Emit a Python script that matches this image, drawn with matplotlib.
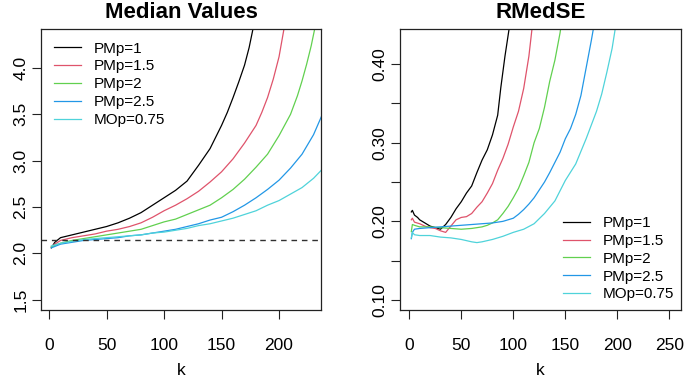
import matplotlib
matplotlib.use("Agg")
import matplotlib.pyplot as plt
from matplotlib.ticker import FixedLocator

plt.rcParams['font.family'] = ['Liberation Sans', 'DejaVu Sans']

# ---------------- data: Median Values (left panel) ----------------
k_med_pm1 = [2, 5, 10, 20, 30, 40, 50, 60, 70, 80, 90, 100, 110, 120, 130, 140, 150, 155, 160, 165, 170, 174, 178, 182]
med_pm1 = [2.06, 2.12, 2.17, 2.20, 2.23, 2.26, 2.29, 2.33, 2.38, 2.44, 2.52, 2.60, 2.68, 2.78, 2.95, 3.13, 3.38, 3.52, 3.68, 3.85, 4.03, 4.22, 4.46, 4.70]

k_med_pm15 = [2, 5, 10, 20, 30, 40, 50, 60, 70, 80, 90, 100, 110, 120, 130, 140, 150, 160, 170, 180, 185, 190, 195, 200, 204, 208]
med_pm15 = [2.07, 2.10, 2.14, 2.17, 2.19, 2.21, 2.24, 2.26, 2.29, 2.33, 2.39, 2.46, 2.52, 2.59, 2.67, 2.77, 2.88, 3.02, 3.19, 3.38, 3.52, 3.68, 3.88, 4.12, 4.40, 4.70]

k_med_pm2 = [2, 10, 20, 30, 40, 50, 60, 70, 80, 90, 100, 110, 120, 130, 140, 150, 160, 170, 180, 190, 200, 210, 216, 220, 224, 228, 231, 236]
med_pm2 = [2.07, 2.11, 2.14, 2.16, 2.18, 2.20, 2.22, 2.24, 2.26, 2.30, 2.34, 2.37, 2.42, 2.47, 2.52, 2.60, 2.69, 2.80, 2.93, 3.07, 3.27, 3.50, 3.70, 3.86, 4.04, 4.24, 4.42, 4.70]

k_med_pm25 = [2, 10, 20, 30, 40, 50, 60, 70, 80, 90, 100, 110, 120, 130, 140, 150, 160, 170, 180, 190, 200, 210, 220, 230, 237]
med_pm25 = [2.06, 2.10, 2.12, 2.14, 2.15, 2.16, 2.17, 2.19, 2.20, 2.22, 2.24, 2.26, 2.29, 2.32, 2.36, 2.39, 2.45, 2.52, 2.60, 2.69, 2.79, 2.92, 3.07, 3.28, 3.48]

k_med_mo = [2, 10, 20, 30, 40, 50, 60, 70, 80, 90, 100, 110, 120, 130, 140, 150, 160, 170, 180, 190, 200, 210, 220, 230, 237]
med_mo = [2.08, 2.11, 2.13, 2.15, 2.16, 2.17, 2.18, 2.19, 2.20, 2.22, 2.23, 2.25, 2.27, 2.30, 2.32, 2.35, 2.38, 2.42, 2.46, 2.52, 2.57, 2.64, 2.71, 2.81, 2.90]

true_value = 2.15

# ---------------- data: RMedSE (right panel) ----------------
k_rm_pm1 = [2, 3, 5, 8, 10, 15, 20, 25, 30, 35, 40, 45, 50, 55, 60, 65, 70, 75, 80, 85, 88, 92, 96, 98]
rm_pm1 = [0.212, 0.214, 0.208, 0.205, 0.202, 0.198, 0.194, 0.192, 0.190, 0.196, 0.205, 0.216, 0.225, 0.236, 0.245, 0.262, 0.278, 0.291, 0.310, 0.335, 0.370, 0.410, 0.445, 0.460]

k_rm_pm15 = [2, 3, 5, 10, 15, 20, 25, 30, 35, 40, 45, 50, 55, 60, 65, 70, 75, 80, 85, 90, 95, 100, 105, 110, 115, 118, 120]
rm_pm15 = [0.202, 0.204, 0.199, 0.197, 0.194, 0.192, 0.191, 0.188, 0.186, 0.194, 0.202, 0.205, 0.206, 0.210, 0.218, 0.225, 0.236, 0.248, 0.265, 0.280, 0.298, 0.320, 0.340, 0.369, 0.410, 0.445, 0.460]

k_rm_pm2 = [2, 3, 5, 10, 20, 30, 40, 50, 60, 70, 75, 80, 85, 90, 95, 100, 105, 110, 115, 120, 125, 130, 135, 140, 145, 147]
rm_pm2 = [0.187, 0.196, 0.195, 0.193, 0.193, 0.192, 0.191, 0.190, 0.191, 0.193, 0.195, 0.198, 0.202, 0.210, 0.219, 0.230, 0.242, 0.258, 0.275, 0.300, 0.318, 0.345, 0.378, 0.405, 0.440, 0.460]

k_rm_pm25 = [2, 3, 5, 10, 20, 30, 40, 50, 60, 70, 80, 90, 100, 105, 110, 115, 120, 125, 130, 135, 140, 145, 150, 155, 160, 165, 170, 175, 177, 179]
rm_pm25 = [0.178, 0.186, 0.190, 0.191, 0.192, 0.193, 0.194, 0.195, 0.196, 0.197, 0.198, 0.200, 0.204, 0.209, 0.215, 0.222, 0.230, 0.240, 0.250, 0.262, 0.275, 0.288, 0.305, 0.318, 0.336, 0.360, 0.395, 0.430, 0.445, 0.460]

k_rm_mo = [2, 3, 5, 10, 20, 30, 40, 50, 60, 65, 70, 80, 90, 100, 110, 120, 130, 140, 150, 160, 170, 180, 185, 190, 195, 198, 200]
rm_mo = [0.179, 0.186, 0.183, 0.182, 0.182, 0.180, 0.179, 0.177, 0.174, 0.173, 0.174, 0.177, 0.181, 0.186, 0.190, 0.197, 0.210, 0.226, 0.252, 0.273, 0.305, 0.340, 0.362, 0.390, 0.420, 0.445, 0.460]

labels = ["PMp=1", "PMp=1.5", "PMp=2", "PMp=2.5", "MOp=0.75"]
colors = ["#000000", "#DF536B", "#61D04F", "#2297E6", "#4FD3DA"]

med_series = [(k_med_pm1, med_pm1), (k_med_pm15, med_pm15), (k_med_pm2, med_pm2),
              (k_med_pm25, med_pm25), (k_med_mo, med_mo)]
rm_series = [(k_rm_pm1, rm_pm1), (k_rm_pm15, rm_pm15), (k_rm_pm2, rm_pm2),
             (k_rm_pm25, rm_pm25), (k_rm_mo, rm_mo)]

# ---------------- figure ----------------
fig = plt.figure(figsize=(6.85, 3.79), dpi=100)
ax1 = fig.add_axes([41 / 685, (379 - 310) / 379, 280 / 685, 281 / 379])
ax2 = fig.add_axes([400.3 / 685, (379 - 310) / 379, 280.7 / 685, 281 / 379])

for (kk, vv), c, lab in zip(med_series, colors, labels):
    ax1.plot(kk, vv, color=c, lw=0.9, label=lab)
ax1.axhline(true_value, color="#303030", lw=1.0, ls=(0, (4, 3.5)))

for (kk, vv), c, lab in zip(rm_series, colors, labels):
    ax2.plot(kk, vv, color=c, lw=0.9, label=lab)

ax1.set_xlim(-7, 236.5)
ax1.set_ylim(1.39, 4.42)
ax1.xaxis.set_major_locator(FixedLocator([0, 50, 100, 150, 200]))
ax1.yaxis.set_major_locator(FixedLocator([1.5, 2.0, 2.5, 3.0, 3.5, 4.0]))
ax1.set_yticklabels(["1.5", "2.0", "2.5", "3.0", "3.5", "4.0"])

ax2.set_xlim(-8.6, 261.2)
ax2.set_ylim(0.0873, 0.4446)
ax2.xaxis.set_major_locator(FixedLocator([0, 50, 100, 150, 200, 250]))
ax2.yaxis.set_major_locator(FixedLocator([0.10, 0.15, 0.20, 0.25, 0.30, 0.35, 0.40]))
ax2.set_yticklabels(["0.10", "", "0.20", "", "0.30", "", "0.40"])

for ax, title in [(ax1, "Median Values"), (ax2, "RMedSE")]:
    ax.set_title(title, fontsize=16, fontweight="bold", pad=8.0)
    ax.set_xlabel("k", fontsize=12.5, labelpad=7)
    for sp in ax.spines.values():
        sp.set_linewidth(0.9)
        sp.set_color("#222222")
    ax.tick_params(axis="both", direction="out", length=6.5, width=0.8,
                   labelsize=12.5, color="#222222")
    ax.tick_params(axis="x", pad=14)
    ax.tick_params(axis="y", pad=2.5, labelrotation=90)
    for t in ax.get_yticklabels():
        t.set_va("center")
        t.set_ha("right")

leg_kw = dict(frameon=False, fontsize=11, handlelength=1.77, handletextpad=0.82,
              labelspacing=0.25, borderpad=0, borderaxespad=0, loc="upper left")
ax1.legend(bbox_to_anchor=(0.0475, 0.955), **leg_kw)
ax2.legend(bbox_to_anchor=(0.5807, 0.334), **leg_kw)

fig.savefig("out.png", dpi=100)
